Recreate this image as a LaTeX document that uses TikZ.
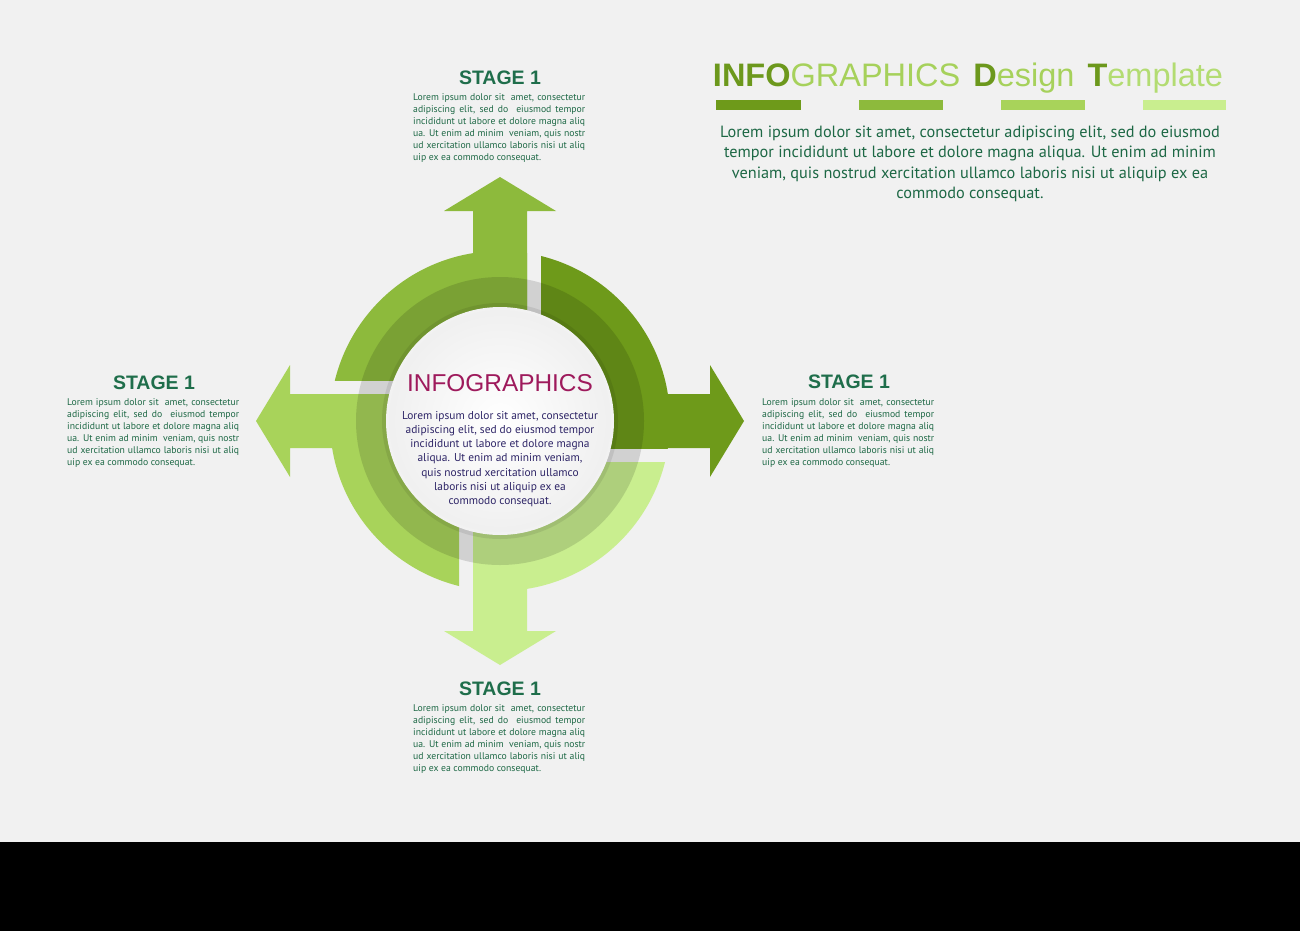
\documentclass[tikz,border=0pt]{standalone}
\usepackage{fontspec}
\setmainfont{PT Sans}
\newfontfamily\arialf{Liberation Sans}
\definecolor{bgc}{HTML}{F1F1F1}
\definecolor{gdark}{HTML}{6E9A1A}
\definecolor{gmed}{HTML}{8DBA3C}
\definecolor{glight}{HTML}{A8D35A}
\definecolor{glightest}{HTML}{C9EE8F}
\definecolor{stagegreen}{HTML}{1F6E4B}
\definecolor{bodygreen}{HTML}{1D6845}
\definecolor{magentat}{HTML}{9E1A5C}
\definecolor{navyt}{HTML}{2D2466}
\definecolor{tdark}{HTML}{6C981C}
\definecolor{tlight}{HTML}{A6D15B}
\definecolor{tlighter}{HTML}{B3DC72}
\tikzset{
  stagehead/.style={font=\arialf\bfseries\fontsize{19.5}{21}\selectfont, text=stagegreen, inner sep=0pt},
  stagebody/.style={font=\fontsize{9.7}{12}\selectfont, text=bodygreen, inner sep=0pt, align=left, anchor=north west},
}
\newcommand{\jl}[1]{\makebox[172pt][s]{#1}}
\newcommand{\piece}[2]{%
  \begin{scope}[shift={(500,421)}, rotate=#1]
    \begin{scope}
      \clip (-200,-200) rectangle (27,-41);
      \fill[#2] (0,0) circle[radius=170];
    \end{scope}
    \fill[#2] (-27,-100) -- (-27,-210) -- (-56,-210) -- (0,-244) -- (56,-210) -- (27,-210) -- (27,-100) -- cycle;
  \end{scope}}
\begin{document}
\begin{tikzpicture}[x=1pt,y=-1pt]
\fill[bgc] (0,0) rectangle (1300,842);
\fill[black] (0,842) rectangle (1300,931);
\useasboundingbox (0,0) rectangle (1300,931);

% the four arrow pieces
\piece{0}{gmed}
\piece{-90}{gdark}
\piece{180}{glightest}
\piece{90}{glight}

% shadow band
\fill[black, opacity=0.13, even odd rule] (500,421) circle[radius=144] (500,421) circle[radius=113];
\fill[black, opacity=0.08] (500,421) circle[radius=118];
% white disc
\fill[white!90!gray] (500,421) circle[radius=114];
\shade[inner color=white, outer color=white!88!gray] (500,421) circle[radius=111];

\node (ctitle) at (500,383) {\arialf\fontsize{24.4}{26}\selectfont\color{magentat}INFOGRAPHICS};
\node[font=\fontsize{11.4}{14.2}\selectfont, text=navyt, align=center, inner sep=0pt] (cbody) at (500,459)
 {Lorem ipsum dolor sit amet, consectetur\\adipiscing elit, sed do eiusmod tempor\\incididunt ut labore et dolore magna\\aliqua. Ut enim ad minim veniam,\\quis nostrud xercitation ullamco\\laboris nisi ut aliquip ex ea\\commodo consequat.};

% stage texts
\node[stagehead] (h1) at (500,78) {STAGE 1};
\node[stagebody] (b1) at (413,93) {\jl{Lorem ipsum dolor sit\ \ amet, consectetur}\\\jl{adipiscing\ elit, sed do\ \ eiusmod\ tempor}\\\jl{incididunt ut labore et dolore magna aliq}\\\jl{ua. Ut enim ad minim\ \ veniam, quis nostr}\\\jl{ud xercitation ullamco\ laboris\ nisi ut aliq}\\uip ex ea commodo consequat.};

\node[stagehead] (h2) at (154,383) {STAGE 1};
\node[stagebody] (b2) at (67,398) {\jl{Lorem ipsum dolor sit\ \ amet, consectetur}\\\jl{adipiscing\ elit, sed do\ \ eiusmod\ tempor}\\\jl{incididunt ut labore et dolore magna aliq}\\\jl{ua. Ut enim ad minim\ \ veniam, quis nostr}\\\jl{ud xercitation ullamco laboris nisi ut aliq}\\uip ex ea commodo consequat.};

\node[stagehead] (h3) at (849,382) {STAGE 1};
\node[stagebody] (b3) at (762,398) {\jl{Lorem ipsum dolor sit\ \ amet, consectetur}\\\jl{adipiscing\ elit, sed do\ \ eiusmod\ tempor}\\\jl{incididunt ut labore et dolore magna aliq}\\\jl{ua. Ut enim ad minim\ \ veniam, quis nostr}\\\jl{ud xercitation ullamco\ laboris\ nisi ut aliq}\\uip ex ea commodo consequat.};

\node[stagehead] (h4) at (500,689) {STAGE 1};
\node[stagebody] (b4) at (413,704) {\jl{Lorem ipsum dolor sit\ \ amet, consectetur}\\\jl{adipiscing\ elit, sed do\ \ eiusmod\ tempor}\\\jl{incididunt ut labore et dolore magna aliq}\\\jl{ua. Ut enim ad minim\ \ veniam, quis nostr}\\\jl{ud xercitation ullamco\ laboris\ nisi ut aliq}\\uip ex ea commodo consequat.};

% title
\node[inner sep=0pt, anchor=base] (title) at (968,87) {\arialf\fontsize{32.5}{35}\selectfont
  {\bfseries\color{tdark}INFO}{\color{tlight}GRAPHICS}\hspace{13pt}{\bfseries\color{tdark}D}{\color{tlight}esign}\hspace{13pt}{\bfseries\color{tdark}T}{\color{tlighter}emplate}};
\fill[gdark] (716,100) rectangle (801,110);
\fill[gmed] (859,100) rectangle (943,110);
\fill[glight] (1001,100) rectangle (1085,110);
\fill[glightest] (1143,100) rectangle (1226,110);

\node[font=\fontsize{16.3}{20.3}\selectfont, text=bodygreen, align=center, inner sep=0pt] (para) at (970,164)
 {Lorem ipsum dolor sit amet, consectetur adipiscing elit, sed do eiusmod\\tempor incididunt ut labore et dolore magna aliqua. Ut enim ad minim\\veniam, quis nostrud xercitation ullamco laboris nisi ut aliquip ex ea\\commodo consequat.};
\end{tikzpicture}
\end{document}
